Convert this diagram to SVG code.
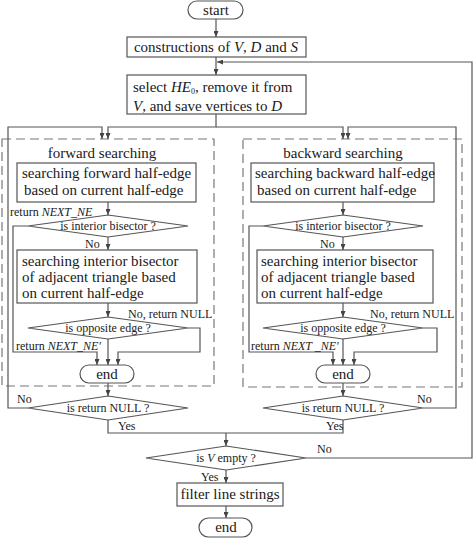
<svg xmlns="http://www.w3.org/2000/svg" width="474" height="539" viewBox="0 0 474 539">
<style>
.n{fill:#fff;stroke:#555;stroke-width:1.2}
.d{fill:none;stroke:#777;stroke-width:1.2;stroke-dasharray:9 5}
.c{fill:none;stroke:#555;stroke-width:1.2}
.a{marker-end:url(#ah)}
text{font-family:"Liberation Serif","Times New Roman",serif;fill:#1a1a1a}
.t{font-size:15px}
.s{font-size:12px}
.i{font-style:italic}
</style>
<defs>
<marker id="ah" markerUnits="userSpaceOnUse" markerWidth="6" markerHeight="5" refX="6" refY="2.5" orient="auto">
<path d="M0,0 L6,2.5 L0,5 z" fill="#444"/>
</marker>
</defs>
<g id="groups">
<rect class="d" x="2" y="139" width="212" height="247"/>
<rect class="d" x="243" y="139" width="219" height="248"/>
</g>
<g id="connectors">
<path class="c a" d="M216,19 V37"/>
<path class="c a" d="M216,57 V75"/>
<path class="c a" d="M216,114 V127 H108 V139"/>
<path class="c a" d="M216,127 H343 V139"/>
<path class="c a" d="M28,408 H8 V127 H102 V139"/>
<path class="c a" d="M423,408 H456 V127 H348 V139"/>
<path class="c a" d="M108,202 V215"/>
<path class="c a" d="M343,202 V215"/>
<path class="c a" d="M108,237 V250"/>
<path class="c a" d="M343,237 V250"/>
<path class="c a" d="M28,226 H13 V352 H97 V365"/>
<path class="c a" d="M263,226 H249 V352 H333 V365"/>
<path class="c a" d="M108,303 V317"/>
<path class="c a" d="M343,303 V317"/>
<path class="c a" d="M108,339 V365"/>
<path class="c a" d="M343,339 V365"/>
<path class="c a" d="M188,328 H200 V352 H118 V365"/>
<path class="c a" d="M423,328 H437 V352 H354 V365"/>
<path class="c a" d="M108,383 V396"/>
<path class="c a" d="M343,383 V396"/>
<path class="c" d="M108,420 V433 H343 V420"/>
<path class="c a" d="M226,433 V446"/>
<path class="c a" d="M226,470 V483"/>
<path class="c a" d="M226,506 V518"/>
<path class="c a" d="M306,458 H472 V62 H217"/>
</g>
<g id="start"><rect class="n" x="188" y="1" width="55" height="18" rx="9"/><text class="t" x="216" y="15" text-anchor="middle">start</text></g>
<g id="construct"><rect class="n" x="127" y="37" width="179" height="20"/><text class="t" x="216" y="52" text-anchor="middle">constructions of <tspan class="i">V</tspan>, <tspan class="i">D</tspan> and <tspan class="i">S</tspan></text></g>
<g id="select"><rect class="n" x="127" y="75" width="179" height="39"/>
<text class="t" x="133" y="92">select <tspan class="i">HE</tspan><tspan font-size="8" dy="2">0</tspan><tspan dy="-2">, remove it from</tspan></text>
<text class="t" x="133" y="111"><tspan class="i">V</tspan>, and save vertices to <tspan class="i">D</tspan></text></g>
<g id="fwd-label"><text class="t" x="102" y="158" text-anchor="middle">forward searching</text></g>
<g id="bwd-label"><text class="t" x="343" y="158" text-anchor="middle">backward searching</text></g>
<g id="l-search1"><rect class="n" x="17" y="163" width="179" height="39"/><text class="t" x="22" y="178">searching forward half-edge</text><text class="t" x="24" y="195">based on current half-edge</text></g>
<g id="r-search1"><rect class="n" x="251" y="163" width="183" height="39"/><text class="t" x="255" y="178">searching backward half-edge</text><text class="t" x="257" y="195">based on current half-edge</text></g>
<g id="l-dia1"><polygon class="n" points="108,215 188,226 108,237 28,226"/><text class="s" x="108" y="230" text-anchor="middle">is interior bisector ?</text></g>
<g id="r-dia1"><polygon class="n" points="343,215 423,226 343,237 263,226"/><text class="s" x="343" y="230" text-anchor="middle">is interior bisector ?</text></g>
<g id="l-search2"><rect class="n" x="17" y="250" width="180" height="53"/><text class="t" x="22" y="266">searching interior bisector</text><text class="t" x="22" y="282">of adjacent triangle based</text><text class="t" x="22" y="298">on current half-edge</text></g>
<g id="r-search2"><rect class="n" x="257" y="250" width="176" height="53"/><text class="t" x="261" y="266">searching interior bisector</text><text class="t" x="261" y="282">of adjacent triangle based</text><text class="t" x="261" y="298">on current half-edge</text></g>
<g id="l-dia2"><polygon class="n" points="108,317 188,328 108,339 28,328"/><text class="s" x="108" y="332" text-anchor="middle">is opposite edge ?</text></g>
<g id="r-dia2"><polygon class="n" points="343,317 423,328 343,339 263,328"/><text class="s" x="343" y="332" text-anchor="middle">is opposite edge ?</text></g>
<g id="l-end"><rect class="n" x="80" y="365" width="54" height="18" rx="9"/><text class="t" x="107" y="379" text-anchor="middle">end</text></g>
<g id="r-end"><rect class="n" x="316" y="365" width="54" height="18" rx="9"/><text class="t" x="343" y="379" text-anchor="middle">end</text></g>
<g id="l-dia3"><polygon class="n" points="108,396 188,408 108,420 28,408"/><text class="s" x="108" y="412" text-anchor="middle">is return NULL ?</text></g>
<g id="r-dia3"><polygon class="n" points="343,396 423,408 343,420 263,408"/><text class="s" x="343" y="412" text-anchor="middle">is return NULL ?</text></g>
<g id="v-dia"><polygon class="n" points="226,446 306,458 226,470 146,458"/><text class="s" x="226" y="462" text-anchor="middle">is <tspan class="i">V</tspan> empty ?</text></g>
<g id="filter"><rect class="n" x="177" y="483" width="106" height="23"/><text class="t" x="230" y="499" text-anchor="middle">filter line strings</text></g>
<g id="end"><rect class="n" x="199" y="518" width="53" height="19" rx="9.5"/><text class="t" x="226" y="532" text-anchor="middle">end</text></g>
<g id="labels">
<text class="s" x="10" y="216">return <tspan class="i">NEXT_NE</tspan></text>
<text class="s" x="85" y="248">No</text>
<text class="s" x="320" y="248">No</text>
<text class="s" x="128" y="318">No, return NULL</text>
<text class="s" x="370" y="318">No, return NULL</text>
<text class="s" x="16" y="350">return <tspan class="i">NEXT_NE'</tspan></text>
<text class="s" x="251" y="350">return <tspan class="i">NEXT _NE'</tspan></text>
<text class="s" x="17" y="403">No</text>
<text class="s" x="417" y="403">No</text>
<text class="s" x="118" y="430">Yes</text>
<text class="s" x="326" y="430">Yes</text>
<text class="s" x="317" y="453">No</text>
<text class="s" x="201" y="481">Yes</text>
</g>
</svg>
